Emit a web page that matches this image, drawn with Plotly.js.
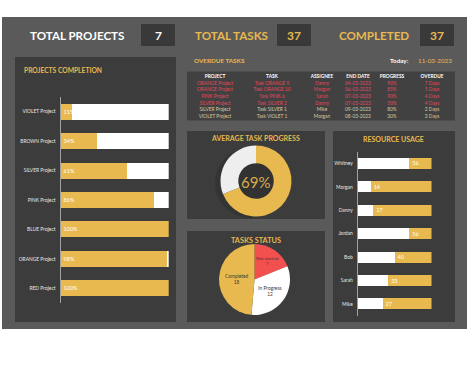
<!DOCTYPE html>
<html><head><meta charset="utf-8">
<script src="https://cdn.plot.ly/plotly-3.0.1.min.js"></script>
<style>html,body{margin:0;padding:0;background:#fff}#chart{width:474px;height:365px}</style>
</head><body><div id="chart"></div>
<script>
// ---------- DATA ----------
const kpiLabels = ['TOTAL PROJECTS', 'TOTAL TASKS', 'COMPLETED'];
const kpiValues = [7, 37, 37];

const projects = ['VIOLET Project','BROWN Project','SILVER Project','PINK Project','BLUE Project','ORANGE Project','RED Project'];
const projectDone = [0.11, 0.34, 0.61, 0.86, 1.00, 0.98, 1.00];
const projectLeft = [0.89, 0.66, 0.39, 0.14, 0.00, 0.02, 0.00];

const tableHeaders = ['PROJECT','TASK','ASSIGNEE','END DATE','PROGRESS','OVERDUE'];
const odProject  = ['ORANGE Project','ORANGE Project','PINK Project','SILVER Project','SILVER Project','VIOLET Project'];
const odTask     = ['Task ORANGE 9','Task ORANGE 10','Task PINK 6','Task SILVER 2','Task SILVER 1','Task VIOLET 1'];
const odAssignee = ['Danny','Morgan','Sarah','Danny','Mike','Morgan'];
const odEndDate  = ['04-03-2023','06-03-2023','07-03-2023','07-03-2023','09-03-2023','08-03-2023'];
const odProgress = ['90%','85%','90%','50%','80%','30%'];
const odOverdue  = ['7 Days','5 Days','4 Days','4 Days','2 Days','3 Days'];
const odHighlight = [true, true, true, true, false, false];
const today = '11-03-2023';

const avgLabels = ['Done', 'Remaining'];
const avgValues = [69, 31];

const statusLabels = ['Not started', 'In Progress', 'Completed'];
const statusValues = [7, 12, 18];

const people = ['Whitney','Morgan','Danny','Jordan','Bob','Sarah','Mike'];
const usedHours = [56, 14, 17, 56, 40, 33, 27];
const freeHours = [24, 66, 63, 24, 40, 47, 53];

// ---------- STYLE / LAYOUT HELPERS ----------
const W = 474, H = 365;
const X = p => p / W, Y = p => 1 - p / H;
const GOLD = '#e8b94f', BG = '#5a5a5a', PANEL = '#3c3c3c', BOX = '#393939';
const RED_TXT = '#e0485e', BEIGE_TXT = '#d6c8a2';
const FONT = 'Lato, "Open Sans", sans-serif';
const colX = [28, 85, 135, 171, 205, 245]; // column centres inside the table area (px)

function rect(x0, y0, x1, y1, color) {
  return {type:'rect', xref:'paper', yref:'paper', x0:X(x0), x1:X(x1), y0:Y(y1), y1:Y(y0),
          fillcolor:color, line:{width:0}, layer:'below'};
}
function circ(cx, cy, r, color) {
  return {type:'circle', xref:'paper', yref:'paper', x0:X(cx-r), x1:X(cx+r), y0:Y(cy+r), y1:Y(cy-r),
          fillcolor:color, line:{width:0}, layer:'below'};
}
function ann(text, x, y, size, color, xanchor) {
  return {text, x:X(x), y:Y(y), xref:'paper', yref:'paper', showarrow:false,
          xanchor: xanchor || 'center', yanchor:'middle', font:{family:FONT, size, color}};
}

// ---------- TRACES ----------
const traces = [];
traces.push({type:'bar', orientation:'h', y:projects, x:projectDone, xaxis:'x', yaxis:'y',
  width:0.54, marker:{color:GOLD, line:{width:0}},
  text: projectDone.map(v => Math.round(v*100) + '%'), textposition:'inside', insidetextanchor:'start',
  textangle:0, constraintext:'none', textfont:{family:FONT, size:5.5, color:'#ffffff'}, hoverinfo:'skip'});
traces.push({type:'bar', orientation:'h', y:projects, x:projectLeft, xaxis:'x', yaxis:'y',
  width:0.54, marker:{color:'#ffffff', line:{width:0}}, textposition:'none', hoverinfo:'skip'});

traces.push({type:'bar', orientation:'h', y:people, x:usedHours, xaxis:'x2', yaxis:'y2',
  width:0.47, marker:{color:'#ffffff', line:{width:0}}, textposition:'none', hoverinfo:'skip'});
traces.push({type:'bar', orientation:'h', y:people, x:freeHours, xaxis:'x2', yaxis:'y2',
  width:0.47, marker:{color:GOLD, line:{width:0}},
  text: usedHours.map(String), textposition:'inside', insidetextanchor:'start',
  textangle:0, constraintext:'none', textfont:{family:FONT, size:5.5, color:'#ffffff'}, hoverinfo:'skip'});

// overdue table as text on its own axes
const rowColors = odHighlight.map(h => h ? RED_TXT : BEIGE_TXT);
traces.push({type:'scatter', mode:'text', xaxis:'x3', yaxis:'y3',
  x: tableHeaders.map((_, i) => colX[i]), y: tableHeaders.map(() => 0),
  text: tableHeaders.map(h => '<b>' + h + '</b>'),
  textfont:{family:FONT, size:4.8, color:'#ffffff'}, hoverinfo:'skip'});
[odProject, odTask, odAssignee, odEndDate, odProgress, odOverdue].forEach((col, i) => {
  traces.push({type:'scatter', mode:'text', xaxis:'x3', yaxis:'y3',
    x: col.map(() => colX[i]), y: col.map((_, r) => r + 1), text: col,
    textfont:{family:FONT, size:4.8, color: rowColors}, hoverinfo:'skip'});
});

traces.push({type:'pie', labels:avgLabels, values:avgValues, hole:0.5, sort:false,
  direction:'clockwise', rotation:0, textinfo:'none', hoverinfo:'skip',
  marker:{colors:[GOLD, '#eeeeee'], line:{width:0}},
  domain:{x:[X(220.5), X(291.5)], y:[Y(216.5), Y(145.5)]}});

traces.push({type:'pie', labels:statusLabels, values:statusValues, sort:false,
  direction:'clockwise', rotation:0, textinfo:'label+value', textposition:'inside',
  insidetextorientation:'horizontal', hoverinfo:'skip',
  textfont:{family:FONT, size:4.8, color:'#3a3a3a'},
  marker:{colors:['#f24f4f', '#ffffff', GOLD], line:{width:0}},
  domain:{x:[X(219), X(290)], y:[Y(315), Y(244)]}});

// ---------- LAYOUT ----------
const hiddenX = {showgrid:false, zeroline:false, showticklabels:false, showline:false, ticks:'', fixedrange:true};
const catY = {autorange:'reversed', showgrid:false, zeroline:false, showline:true, linecolor:'#a0a0a0',
  linewidth:1, ticks:'', ticklabelstandoff:3, tickfont:{family:FONT, size:4.9, color:'#e8e8e8'}, fixedrange:true};

const shapes = [
  rect(2, 17, 467, 329, BG),
  rect(141, 24, 175, 46, BOX), rect(277, 24, 311, 46, BOX), rect(420, 24, 454, 46, BOX),
  rect(15, 57, 176, 322, PANEL),
  rect(187, 71.5, 455, 120.5, '#414141'),
  rect(187, 131, 325, 219, PANEL),
  rect(187, 231, 325, 322, PANEL),
  rect(333, 131, 455, 322, PANEL),
  circ(250, 183, 35, '#343434'),
  circ(256, 181, 18, '#323232')
];

const annotations = [
  ann('<b>' + kpiLabels[0] + '</b>', 76.5, 35.5, 11.6, '#ffffff'),
  ann('<b>' + kpiValues[0] + '</b>', 158, 35.5, 12, '#ffffff'),
  ann('<b>' + kpiLabels[1] + '</b>', 231, 35.5, 11.6, GOLD),
  ann('<b>' + kpiValues[1] + '</b>', 294, 35.5, 12, GOLD),
  ann('<b>' + kpiLabels[2] + '</b>', 374, 35.5, 11.6, GOLD),
  ann('<b>' + kpiValues[2] + '</b>', 437, 35.5, 12, GOLD),
  ann('<b>PROJECTS COMPLETION</b>', 22, 69.7, 6.7, GOLD, 'left'),
  ann('<b>OVERDUE TASKS</b>', 192, 61, 6.3, GOLD, 'left'),
  ann('<b>Today:</b>', 388, 61, 6.3, '#ffffff', 'left'),
  ann(today, 416, 61, 6.3, GOLD, 'left'),
  ann('<b>AVERAGE TASK PROGRESS</b>', 255.7, 138.3, 7, GOLD),
  ann('<b>TASKS STATUS</b>', 256, 240, 7.3, GOLD),
  ann('<b>RESOURCE USAGE</b>', 393.5, 139.3, 7, GOLD),
  ann(avgValues[0] + '%', 256, 182, 15, '#d9ad4a')
];

const layout = {
  width:W, height:H, margin:{l:0, r:0, t:0, b:0}, autosize:false,
  paper_bgcolor:'#ffffff', plot_bgcolor:'rgba(0,0,0,0)', showlegend:false, barmode:'stack',
  font:{family:FONT},
  xaxis: Object.assign({domain:[X(60.5), X(168.7)], range:[0, 1], anchor:'y'}, hiddenX),
  yaxis: Object.assign({domain:[Y(303), Y(97)], anchor:'x'}, catY),
  xaxis2: Object.assign({domain:[X(357.7), X(431.5)], range:[0, 80], anchor:'y2'}, hiddenX),
  yaxis2: Object.assign({domain:[Y(315.7), Y(151.7)], anchor:'x2'}, catY),
  xaxis3: Object.assign({domain:[X(187), X(455)], range:[0, 268], anchor:'y3'}, hiddenX),
  yaxis3: Object.assign({domain:[Y(121), Y(72)], range:[6.65, -0.7], anchor:'x3'}, hiddenX),
  shapes, annotations
};

Plotly.newPlot('chart', traces, layout, {displayModeBar:false, staticPlot:true});
</script></body></html>
